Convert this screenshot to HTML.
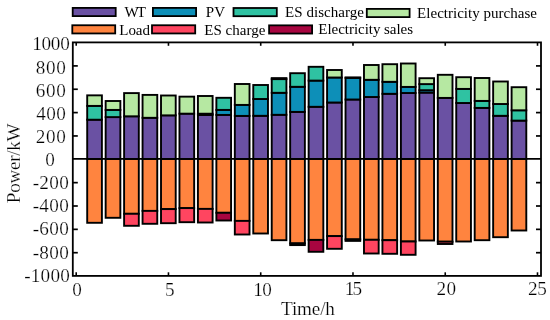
<!DOCTYPE html>
<html><head><meta charset="utf-8"><title>Power balance</title>
<style>
html,body{margin:0;padding:0;background:#fff;}
body{width:550px;height:320px;overflow:hidden;}
svg{display:block;font-family:"Liberation Serif","Times New Roman",serif;fill:#151515;}
.b rect{stroke:#000;stroke-width:1.9;}
.t{font-size:19.2px;fill:#000;stroke:#fff;stroke-width:0.24px;paint-order:fill stroke;}
.l{font-size:15px;fill:#000;}
</style></head><body>
<svg width="550" height="320" viewBox="0 0 550 320">
<rect x="0" y="0" width="550" height="320" fill="#fff"/>
<g class="b" id="bars">
<rect x="87.2" y="119.7" width="14.7" height="39.3" fill="#6a51a3"/>
<rect x="87.2" y="105.9" width="14.7" height="13.8" fill="#2fc2a2"/>
<rect x="87.2" y="95.35" width="14.7" height="10.55" fill="#b6e8a2"/>
<rect x="87.2" y="159" width="14.7" height="63.8" fill="#ff843f"/>
<rect x="105.65" y="117.1" width="14.7" height="41.9" fill="#6a51a3"/>
<rect x="105.65" y="109.9" width="14.7" height="7.2" fill="#2fc2a2"/>
<rect x="105.65" y="101" width="14.7" height="8.9" fill="#b6e8a2"/>
<rect x="105.65" y="159" width="14.7" height="58.8" fill="#ff843f"/>
<rect x="124.11" y="116.3" width="14.7" height="42.7" fill="#6a51a3"/>
<rect x="124.11" y="93.1" width="14.7" height="23.2" fill="#b6e8a2"/>
<rect x="124.11" y="159" width="14.7" height="54.8" fill="#ff843f"/>
<rect x="124.11" y="213.8" width="14.7" height="12" fill="#ff4560"/>
<rect x="142.56" y="117.8" width="14.7" height="41.2" fill="#6a51a3"/>
<rect x="142.56" y="94.9" width="14.7" height="22.9" fill="#b6e8a2"/>
<rect x="142.56" y="159" width="14.7" height="51.9" fill="#ff843f"/>
<rect x="142.56" y="210.9" width="14.7" height="12.9" fill="#ff4560"/>
<rect x="161.01" y="115.35" width="14.7" height="43.65" fill="#6a51a3"/>
<rect x="161.01" y="95.5" width="14.7" height="19.85" fill="#b6e8a2"/>
<rect x="161.01" y="159" width="14.7" height="50.1" fill="#ff843f"/>
<rect x="161.01" y="209.1" width="14.7" height="14.1" fill="#ff4560"/>
<rect x="179.46" y="113.65" width="14.7" height="45.35" fill="#6a51a3"/>
<rect x="179.46" y="96.65" width="14.7" height="17" fill="#b6e8a2"/>
<rect x="179.46" y="159" width="14.7" height="49.1" fill="#ff843f"/>
<rect x="179.46" y="208.1" width="14.7" height="14.1" fill="#ff4560"/>
<rect x="197.91" y="114.9" width="14.7" height="44.1" fill="#6a51a3"/>
<rect x="197.91" y="113.7" width="14.7" height="1.2" fill="#0d8fb8"/>
<rect x="197.91" y="96" width="14.7" height="17.7" fill="#b6e8a2"/>
<rect x="197.91" y="159" width="14.7" height="49.9" fill="#ff843f"/>
<rect x="197.91" y="208.9" width="14.7" height="13.6" fill="#ff4560"/>
<rect x="216.37" y="114.9" width="14.7" height="44.1" fill="#6a51a3"/>
<rect x="216.37" y="109.9" width="14.7" height="5" fill="#0d8fb8"/>
<rect x="216.37" y="97.8" width="14.7" height="12.1" fill="#2fc2a2"/>
<rect x="216.37" y="159" width="14.7" height="53.8" fill="#ff843f"/>
<rect x="216.37" y="212.8" width="14.7" height="7.7" fill="#a80540"/>
<rect x="234.82" y="115.9" width="14.7" height="43.1" fill="#6a51a3"/>
<rect x="234.82" y="104.9" width="14.7" height="11" fill="#0d8fb8"/>
<rect x="234.82" y="84" width="14.7" height="20.9" fill="#b6e8a2"/>
<rect x="234.82" y="159" width="14.7" height="61.9" fill="#ff843f"/>
<rect x="234.82" y="220.9" width="14.7" height="13.6" fill="#ff4560"/>
<rect x="253.27" y="115.8" width="14.7" height="43.2" fill="#6a51a3"/>
<rect x="253.27" y="99" width="14.7" height="16.8" fill="#0d8fb8"/>
<rect x="253.27" y="85" width="14.7" height="14" fill="#2fc2a2"/>
<rect x="253.27" y="159" width="14.7" height="74.5" fill="#ff843f"/>
<rect x="271.72" y="114.8" width="14.7" height="44.2" fill="#6a51a3"/>
<rect x="271.72" y="92.8" width="14.7" height="22" fill="#0d8fb8"/>
<rect x="271.72" y="79.1" width="14.7" height="13.7" fill="#2fc2a2"/>
<rect x="271.72" y="78.1" width="14.7" height="1" fill="#b6e8a2"/>
<rect x="271.72" y="159" width="14.7" height="81.2" fill="#ff843f"/>
<rect x="290.17" y="111.9" width="14.7" height="47.1" fill="#6a51a3"/>
<rect x="290.17" y="86.8" width="14.7" height="25.1" fill="#0d8fb8"/>
<rect x="290.17" y="73.2" width="14.7" height="13.6" fill="#2fc2a2"/>
<rect x="290.17" y="159" width="14.7" height="84.4" fill="#ff843f"/>
<rect x="290.17" y="243.4" width="14.7" height="1.7" fill="#a80540"/>
<rect x="308.63" y="106.8" width="14.7" height="52.2" fill="#6a51a3"/>
<rect x="308.63" y="80.6" width="14.7" height="26.2" fill="#0d8fb8"/>
<rect x="308.63" y="66.8" width="14.7" height="13.8" fill="#2fc2a2"/>
<rect x="308.63" y="159" width="14.7" height="80.9" fill="#ff843f"/>
<rect x="308.63" y="239.9" width="14.7" height="11.9" fill="#a80540"/>
<rect x="327.08" y="102.5" width="14.7" height="56.5" fill="#6a51a3"/>
<rect x="327.08" y="77.5" width="14.7" height="25" fill="#0d8fb8"/>
<rect x="327.08" y="70" width="14.7" height="7.5" fill="#b6e8a2"/>
<rect x="327.08" y="159" width="14.7" height="77.1" fill="#ff843f"/>
<rect x="327.08" y="236.1" width="14.7" height="12.7" fill="#ff4560"/>
<rect x="345.53" y="99.5" width="14.7" height="59.5" fill="#6a51a3"/>
<rect x="345.53" y="77.9" width="14.7" height="21.6" fill="#0d8fb8"/>
<rect x="345.53" y="77.4" width="14.7" height="0.5" fill="#b6e8a2"/>
<rect x="345.53" y="159" width="14.7" height="80.4" fill="#ff843f"/>
<rect x="345.53" y="239.4" width="14.7" height="1.5" fill="#a80540"/>
<rect x="363.98" y="97" width="14.7" height="62" fill="#6a51a3"/>
<rect x="363.98" y="79.8" width="14.7" height="17.2" fill="#0d8fb8"/>
<rect x="363.98" y="65" width="14.7" height="14.8" fill="#b6e8a2"/>
<rect x="363.98" y="159" width="14.7" height="80.8" fill="#ff843f"/>
<rect x="363.98" y="239.8" width="14.7" height="13.7" fill="#ff4560"/>
<rect x="382.43" y="93.8" width="14.7" height="65.2" fill="#6a51a3"/>
<rect x="382.43" y="81.8" width="14.7" height="12" fill="#0d8fb8"/>
<rect x="382.43" y="64.2" width="14.7" height="17.6" fill="#b6e8a2"/>
<rect x="382.43" y="159" width="14.7" height="81.2" fill="#ff843f"/>
<rect x="382.43" y="240.2" width="14.7" height="13.6" fill="#ff4560"/>
<rect x="400.89" y="93" width="14.7" height="66" fill="#6a51a3"/>
<rect x="400.89" y="86.9" width="14.7" height="6.1" fill="#0d8fb8"/>
<rect x="400.89" y="63.5" width="14.7" height="23.4" fill="#b6e8a2"/>
<rect x="400.89" y="159" width="14.7" height="82.5" fill="#ff843f"/>
<rect x="400.89" y="241.5" width="14.7" height="13.3" fill="#ff4560"/>
<rect x="419.34" y="92.6" width="14.7" height="66.4" fill="#6a51a3"/>
<rect x="419.34" y="90.2" width="14.7" height="2.4" fill="#0d8fb8"/>
<rect x="419.34" y="84.1" width="14.7" height="6.1" fill="#2fc2a2"/>
<rect x="419.34" y="78.2" width="14.7" height="5.9" fill="#b6e8a2"/>
<rect x="419.34" y="159" width="14.7" height="81.5" fill="#ff843f"/>
<rect x="437.79" y="97.9" width="14.7" height="61.1" fill="#6a51a3"/>
<rect x="437.79" y="74.8" width="14.7" height="23.1" fill="#b6e8a2"/>
<rect x="437.79" y="159" width="14.7" height="82.7" fill="#ff843f"/>
<rect x="437.79" y="241.7" width="14.7" height="2.3" fill="#ff4560"/>
<rect x="456.24" y="103" width="14.7" height="56" fill="#6a51a3"/>
<rect x="456.24" y="88.9" width="14.7" height="14.1" fill="#2fc2a2"/>
<rect x="456.24" y="77.2" width="14.7" height="11.7" fill="#b6e8a2"/>
<rect x="456.24" y="159" width="14.7" height="82.5" fill="#ff843f"/>
<rect x="474.69" y="107.9" width="14.7" height="51.1" fill="#6a51a3"/>
<rect x="474.69" y="100.9" width="14.7" height="7" fill="#2fc2a2"/>
<rect x="474.69" y="78" width="14.7" height="22.9" fill="#b6e8a2"/>
<rect x="474.69" y="159" width="14.7" height="81.2" fill="#ff843f"/>
<rect x="493.15" y="115.8" width="14.7" height="43.2" fill="#6a51a3"/>
<rect x="493.15" y="104" width="14.7" height="11.8" fill="#2fc2a2"/>
<rect x="493.15" y="81.5" width="14.7" height="22.5" fill="#b6e8a2"/>
<rect x="493.15" y="159" width="14.7" height="78.2" fill="#ff843f"/>
<rect x="511.6" y="120.6" width="14.7" height="38.4" fill="#6a51a3"/>
<rect x="511.6" y="110.3" width="14.7" height="10.3" fill="#2fc2a2"/>
<rect x="511.6" y="87.2" width="14.7" height="23.1" fill="#b6e8a2"/>
<rect x="511.6" y="159" width="14.7" height="71.5" fill="#ff843f"/>
</g>
<g id="axes">
<rect x="72.8" y="42.4" width="468.2" height="233.5" fill="none" stroke="#000" stroke-width="1.8"/>
<line x1="72.8" y1="158.95" x2="541.0" y2="158.95" stroke="#000" stroke-width="1.7"/>
<line x1="76.2" y1="275.9" x2="76.2" y2="272.29999999999995" stroke="#000" stroke-width="1.6"/>
<line x1="76.2" y1="42.4" x2="76.2" y2="45.8" stroke="#000" stroke-width="1.6"/>
<line x1="168.46" y1="275.9" x2="168.46" y2="272.29999999999995" stroke="#000" stroke-width="1.6"/>
<line x1="168.46" y1="42.4" x2="168.46" y2="45.8" stroke="#000" stroke-width="1.6"/>
<line x1="260.72" y1="275.9" x2="260.72" y2="272.29999999999995" stroke="#000" stroke-width="1.6"/>
<line x1="260.72" y1="42.4" x2="260.72" y2="45.8" stroke="#000" stroke-width="1.6"/>
<line x1="352.98" y1="275.9" x2="352.98" y2="272.29999999999995" stroke="#000" stroke-width="1.6"/>
<line x1="352.98" y1="42.4" x2="352.98" y2="45.8" stroke="#000" stroke-width="1.6"/>
<line x1="445.24" y1="275.9" x2="445.24" y2="272.29999999999995" stroke="#000" stroke-width="1.6"/>
<line x1="445.24" y1="42.4" x2="445.24" y2="45.8" stroke="#000" stroke-width="1.6"/>
<line x1="537.5" y1="275.9" x2="537.5" y2="272.29999999999995" stroke="#000" stroke-width="1.6"/>
<line x1="537.5" y1="42.4" x2="537.5" y2="45.8" stroke="#000" stroke-width="1.6"/>
<line x1="72.8" y1="252.7" x2="77.8" y2="252.7" stroke="#000" stroke-width="1.7"/>
<line x1="541.0" y1="252.7" x2="536.0" y2="252.7" stroke="#000" stroke-width="1.7"/>
<line x1="72.8" y1="229.35" x2="77.8" y2="229.35" stroke="#000" stroke-width="1.7"/>
<line x1="541.0" y1="229.35" x2="536.0" y2="229.35" stroke="#000" stroke-width="1.7"/>
<line x1="72.8" y1="206" x2="77.8" y2="206" stroke="#000" stroke-width="1.7"/>
<line x1="541.0" y1="206" x2="536.0" y2="206" stroke="#000" stroke-width="1.7"/>
<line x1="72.8" y1="182.65" x2="77.8" y2="182.65" stroke="#000" stroke-width="1.7"/>
<line x1="541.0" y1="182.65" x2="536.0" y2="182.65" stroke="#000" stroke-width="1.7"/>
<line x1="72.8" y1="135.95" x2="77.8" y2="135.95" stroke="#000" stroke-width="1.7"/>
<line x1="541.0" y1="135.95" x2="536.0" y2="135.95" stroke="#000" stroke-width="1.7"/>
<line x1="72.8" y1="112.6" x2="77.8" y2="112.6" stroke="#000" stroke-width="1.7"/>
<line x1="541.0" y1="112.6" x2="536.0" y2="112.6" stroke="#000" stroke-width="1.7"/>
<line x1="72.8" y1="89.25" x2="77.8" y2="89.25" stroke="#000" stroke-width="1.7"/>
<line x1="541.0" y1="89.25" x2="536.0" y2="89.25" stroke="#000" stroke-width="1.7"/>
<line x1="72.8" y1="65.9" x2="77.8" y2="65.9" stroke="#000" stroke-width="1.7"/>
<line x1="541.0" y1="65.9" x2="536.0" y2="65.9" stroke="#000" stroke-width="1.7"/>
</g>
<g id="legend">
<rect x="72.7" y="7.9" width="43" height="8.2" fill="#6a51a3" stroke="#000" stroke-width="1.8"/>
<rect x="152.9" y="7.9" width="43.2" height="8.2" fill="#0d8fb8" stroke="#000" stroke-width="1.8"/>
<rect x="233.5" y="8" width="43.3" height="8.2" fill="#2fc2a2" stroke="#000" stroke-width="1.8"/>
<rect x="366.8" y="8.9" width="42.8" height="8.2" fill="#b6e8a2" stroke="#000" stroke-width="1.8"/>
<rect x="72.3" y="25.25" width="42.9" height="8.2" fill="#ff843f" stroke="#000" stroke-width="1.8"/>
<rect x="152" y="25.25" width="43.2" height="8.2" fill="#ff4560" stroke="#000" stroke-width="1.8"/>
<rect x="269.1" y="25.35" width="43" height="8.2" fill="#a80540" stroke="#000" stroke-width="1.8"/>
</g>
<g id="texts">
<text id="y1000" class="t" x="32.2" y="50" textLength="37.6" lengthAdjust="spacing">1000</text>
<text id="y800" class="t" x="35.78" y="74" textLength="30.02" lengthAdjust="spacing">800</text>
<text id="y600" class="t" x="35.78" y="97" textLength="30.02" lengthAdjust="spacing">600</text>
<text id="y400" class="t" x="36.18" y="120" textLength="29.62" lengthAdjust="spacing">400</text>
<text id="y200" class="t" x="35.78" y="143" textLength="30.02" lengthAdjust="spacing">200</text>
<text id="y0" class="t" x="45.2" y="166">0</text>
<text id="y-200" class="t" x="32.7" y="189" textLength="36.02" lengthAdjust="spacing">-200</text>
<text id="y-400" class="t" x="32.7" y="212" textLength="36.02" lengthAdjust="spacing">-400</text>
<text id="y-600" class="t" x="32.7" y="235" textLength="36.02" lengthAdjust="spacing">-600</text>
<text id="y-800" class="t" x="32.7" y="259" textLength="36.02" lengthAdjust="spacing">-800</text>
<text id="y-1000" class="t" x="24.2" y="282" textLength="45.6" lengthAdjust="spacing">-1000</text>
<text id="x0" class="t" x="72.2" y="296">0</text>
<text id="x5" class="t" x="164.88" y="296">5</text>
<text id="x10" class="t" x="253.28" y="296" textLength="18.44" lengthAdjust="spacing">10</text>
<text id="x15" class="t" x="344.7" y="295" textLength="17.38" lengthAdjust="spacing">15</text>
<text id="x20" class="t" x="436.5" y="295" textLength="19.58" lengthAdjust="spacing">20</text>
<text id="x25" class="t" x="527.92" y="295" textLength="18.88" lengthAdjust="spacing">25</text>
<text id="xt" class="t" x="281.1" y="315" textLength="53.8" lengthAdjust="spacing">Time/h</text>
<text id="l1" class="l" x="124.5" y="17" textLength="21.34" lengthAdjust="spacing">WT</text>
<text id="l2" class="l" x="205.68" y="17" textLength="19.32" lengthAdjust="spacing">PV</text>
<text id="l3" class="l" x="285.1" y="17" textLength="78.8" lengthAdjust="spacing">ES discharge</text>
<text id="l4" class="l" x="417.1" y="18" textLength="119.8" lengthAdjust="spacing">Electricity purchase</text>
<text id="l5" class="l" x="119.32" y="35" textLength="30.6" lengthAdjust="spacing">Load</text>
<text id="l6" class="l" x="204.32" y="35" textLength="61" lengthAdjust="spacing">ES charge</text>
<text id="l7" class="l" x="318.32" y="34" textLength="94.72" lengthAdjust="spacing">Electricity sales</text>
<text id="yt" class="t" transform="rotate(-90)" x="-203.2" y="20.2" textLength="79.8" lengthAdjust="spacing">Power/kW</text>
</g>
</svg>
</body></html>
